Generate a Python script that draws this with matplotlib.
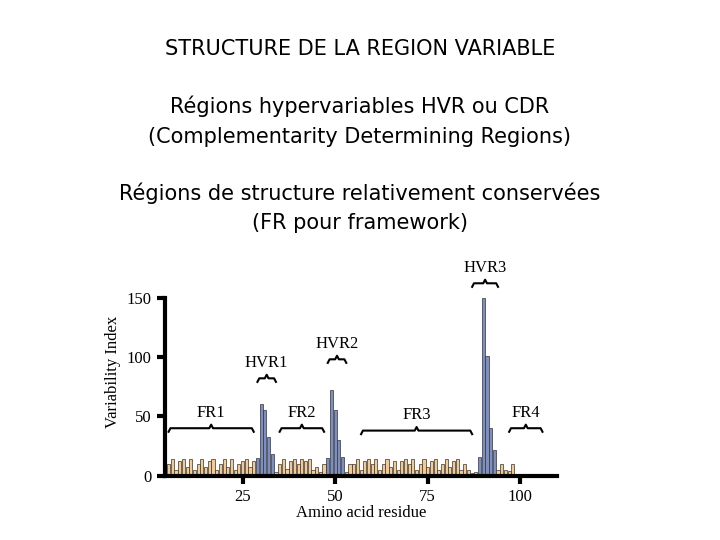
import numpy as np
import matplotlib.pyplot as plt

# variability per residue
residues = list(range(5, 108))
heights = [10, 14, 5, 12, 14, 7, 14, 5, 10, 14, 7, 12, 14, 5, 10, 14, 7, 14, 5,  # FR1 5-23
           10, 12, 14, 7, 12,                                                    # 24-28
           15, 60, 55, 33, 18,                                                   # HVR1 29-33
           3, 10, 14, 6, 12, 14, 10, 14, 12, 14, 5, 7, 3, 10,                     # FR2 34-47
           15, 72, 55, 30, 16,                                                   # HVR2 48-52
           3, 10, 10, 14, 5, 12, 14, 10, 14, 5, 10, 14, 7, 12, 5, 12, 14, 10,
           14, 5, 10, 14, 7, 12, 14, 5, 10, 14, 7, 12, 14, 5, 10, 5, 2, 3,       # FR3 53-88
           16, 150, 101, 40, 22,                                                 # HVR3 89-93
           5, 10, 5, 4, 10, 0, 0, 0, 0, 0, 0, 0, 0, 0]                           # FR4 94-107
heights = heights[:len(residues)]
residues = residues[:len(heights)]
hvr = [(29, 33), (48, 52), (89, 93)]
colors = ['#7b8fc4' if any(a <= r <= b for a, b in hvr) else '#f5c992' for r in residues]

braces = [(5, 28, 40, 'FR1'), (29, 34, 82, 'HVR1'), (35, 47, 40, 'FR2'), (48, 53, 98, 'HVR2'),
          (57, 87, 38, 'FR3'), (87, 94, 162, 'HVR3'), (97, 106, 40, 'FR4')]

fig = plt.figure(figsize=(7.2, 5.4), dpi=100)
fig.text(0.5, 0.91, 'STRUCTURE DE LA REGION VARIABLE', ha='center', va='center', fontsize=15)
fig.text(0.5, 0.776, 'Régions hypervariables HVR ou CDR\n(Complementarity Determining Regions)',
         ha='center', va='center', fontsize=15, linespacing=1.6)
fig.text(0.5, 0.615, 'Régions de structure relativement conservées\n(FR pour framework)',
         ha='center', va='center', fontsize=15, linespacing=1.6)

ax = fig.add_axes([0.229, 0.119, 0.545, 0.385])
ax.bar(residues, heights, width=0.85, color=colors, edgecolor='#333333', linewidth=0.5)
ax.set_xlim(4, 110)
ax.set_ylim(0, 175)
ax.spines['top'].set_visible(False)
ax.spines['right'].set_visible(False)
ax.spines['left'].set_linewidth(3)
ax.spines['bottom'].set_linewidth(3)
ax.spines['left'].set_bounds(0, 150)
ax.set_xticks([25, 50, 75, 100])
ax.set_yticks([0, 50, 100, 150])
ax.tick_params(width=3, length=6, labelsize=12)
for t in ax.get_xticklabels() + ax.get_yticklabels():
    t.set_family('Liberation Serif')
ax.set_xlabel('Amino acid residue', family='Liberation Serif', fontsize=12, labelpad=0)
ax.set_ylabel('Variability Index', family='Liberation Serif', fontsize=12)

# curly braces over each region
for x0, x1, y, lab in braces:
    xm = (x0 + x1) / 2
    ax.plot([x0, x0 + 0.5, xm - 0.5, xm, xm + 0.5, x1 - 0.5, x1],
            [y - 3, y, y, y + 3, y, y, y - 3], color='black', lw=1.5)
    ax.text(xm, y + 6, lab, ha='center', va='bottom', family='Liberation Serif', fontsize=12)

fig.savefig('out.png')
